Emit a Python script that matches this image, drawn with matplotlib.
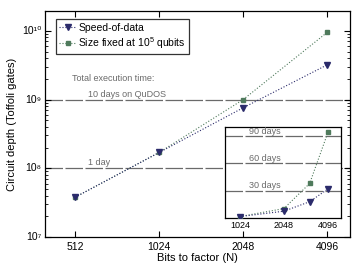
import matplotlib
matplotlib.use("Agg")
import matplotlib.pyplot as plt
from matplotlib.ticker import FixedLocator, FixedFormatter, LogLocator, NullFormatter, NullLocator

plt.rcParams['font.family'] = ['Liberation Sans', 'DejaVu Sans']
plt.rcParams['mathtext.default'] = 'regular'

# Main chart data (Toffoli gates)
bits = [512, 1024, 2048, 4096]
speed_of_data = [3.8e7, 1.7e8, 7.6e8, 3.2e9]
size_fixed = [3.8e7, 1.7e8, 1.0e9, 9.5e9]
bit_labels = ["512", "1024", "2048", "4096"]
y_ticks = [1e7, 1e8, 1e9, 1e10]
y_labels = ["10\u2077", "10\u2078", "10\u2079", "10\u00b9\u2070"]

# Reference lines
ref_levels = [1e8, 1e9]

# Inset data (days)
inset_bits = [1024, 2048, 3072, 4096]
inset_speed_days = [1.7, 7.6, 18, 32]
inset_size_days = [1.7, 10.5, 38, 94]
inset_labels = ["1024", "2048", "4096"]
inset_tick_bits = [1024, 2048, 4096]
day_levels = [30, 60, 90]

navy = "#2b2b6b"
green = "#4f7a5c"
gray = "#6a6a6a"

fig = plt.figure(figsize=(3.57, 2.66), dpi=100)
ax = fig.add_axes([0.126, 0.109, 0.854, 0.850])
ax.set_xscale('log', base=2)
ax.set_yscale('log')
ax.set_xlim(512 * 2 ** -0.36, 4096 * 2 ** 0.27)
ax.set_ylim(1e7, 10 ** 10.29)

for lvl in ref_levels:
    ax.axhline(lvl, color=gray, lw=0.9, dashes=(14, 2), zorder=1)

ax.plot(bits, size_fixed, ls=':', color=green, lw=0.8, marker='s', ms=3.2,
        mec=green, mfc=green, label=r'Size fixed at 10$^5$ qubits', zorder=3)
ax.plot(bits, speed_of_data, ls=':', color=navy, lw=0.8, marker='v', ms=4,
        mec=navy, mfc=navy, label='Speed-of-data', zorder=4)

ax.xaxis.set_major_locator(FixedLocator(bits))
ax.xaxis.set_major_formatter(FixedFormatter(bit_labels))
ax.xaxis.set_minor_locator(NullLocator())
ax.yaxis.set_major_locator(FixedLocator(y_ticks))
ax.yaxis.set_major_formatter(NullFormatter())
ax.yaxis.set_minor_locator(LogLocator(base=10, subs=range(2, 10), numticks=20))
ax.yaxis.set_minor_formatter(NullFormatter())
ax.tick_params(which='both', direction='in', top=True, right=True,
               labelleft=False, labelright=False)
ax.tick_params(which='major', length=4, width=0.8, labelsize=7.5)
ax.tick_params(which='minor', length=2, width=0.6)
for s in ax.spines.values():
    s.set_linewidth(0.9)

ytr = ax.get_yaxis_transform()
# y tick labels drawn as text at the tick positions
for v, lab in zip(y_ticks, y_labels):
    ax.text(-0.012, v, lab, transform=ytr, ha='right', va='center',
            fontsize=7.5, clip_on=False)

ax.set_xlabel('Bits to factor (N)', fontsize=8, labelpad=1)
ax.set_ylabel('Circuit depth (Toffoli gates)', fontsize=8)
ax.yaxis.set_label_coords(-0.092, 0.5)

ax.text(0.09, 0.70, 'Total execution time:', transform=ax.transAxes,
        fontsize=6.5, color=gray, ha='left', va='center')
ax.text(0.14, ref_levels[1] * 1.03, '10 days on QuDOS', fontsize=6.5, color=gray,
        ha='left', va='bottom', transform=ytr)
ax.text(0.14, ref_levels[0] * 1.03, '1 day', fontsize=6.5, color=gray,
        ha='left', va='bottom', transform=ytr)

handles, labels = ax.get_legend_handles_labels()
leg = ax.legend(handles[::-1], labels[::-1], loc='upper left', fontsize=7.5,
                frameon=True, fancybox=False, edgecolor='black',
                borderpad=0.3, handlelength=1.6, handletextpad=0.2,
                labelspacing=0.25, bbox_to_anchor=(0.037, 0.962), borderaxespad=0)
leg.get_frame().set_linewidth(0.9)

# Inset
ins = fig.add_axes([0.630, 0.180, 0.325, 0.343])
ins.set_xscale('log', base=2)
ins.set_xlim(1024 * 2 ** -0.34, 4096 * 2 ** 0.295)
ins.set_ylim(0, 100)
for d in day_levels:
    ins.axhline(d, color=gray, lw=0.9, dashes=(14, 2), zorder=1)
    ins.text(1024 * 2 ** 0.2, d + 0.3, f'{d} days', fontsize=6.5, color=gray,
             ha='left', va='bottom')
ins.plot(inset_bits, inset_size_days, ls=':', color=green, lw=0.8, marker='s',
         ms=3, mec=green, mfc=green, zorder=3)
ins.plot(inset_bits, inset_speed_days, ls=':', color=navy, lw=0.8, marker='v',
         ms=3.8, mec=navy, mfc=navy, zorder=4)
ins.xaxis.set_major_locator(FixedLocator(inset_tick_bits))
ins.xaxis.set_major_formatter(FixedFormatter(inset_labels))
ins.xaxis.set_minor_locator(NullLocator())
ins.yaxis.set_major_locator(NullLocator())
ins.yaxis.set_minor_locator(NullLocator())
ins.tick_params(direction='in', length=0, labelsize=6.5, pad=2)
for s in ins.spines.values():
    s.set_linewidth(0.9)

fig.savefig('out.png', dpi=100)
